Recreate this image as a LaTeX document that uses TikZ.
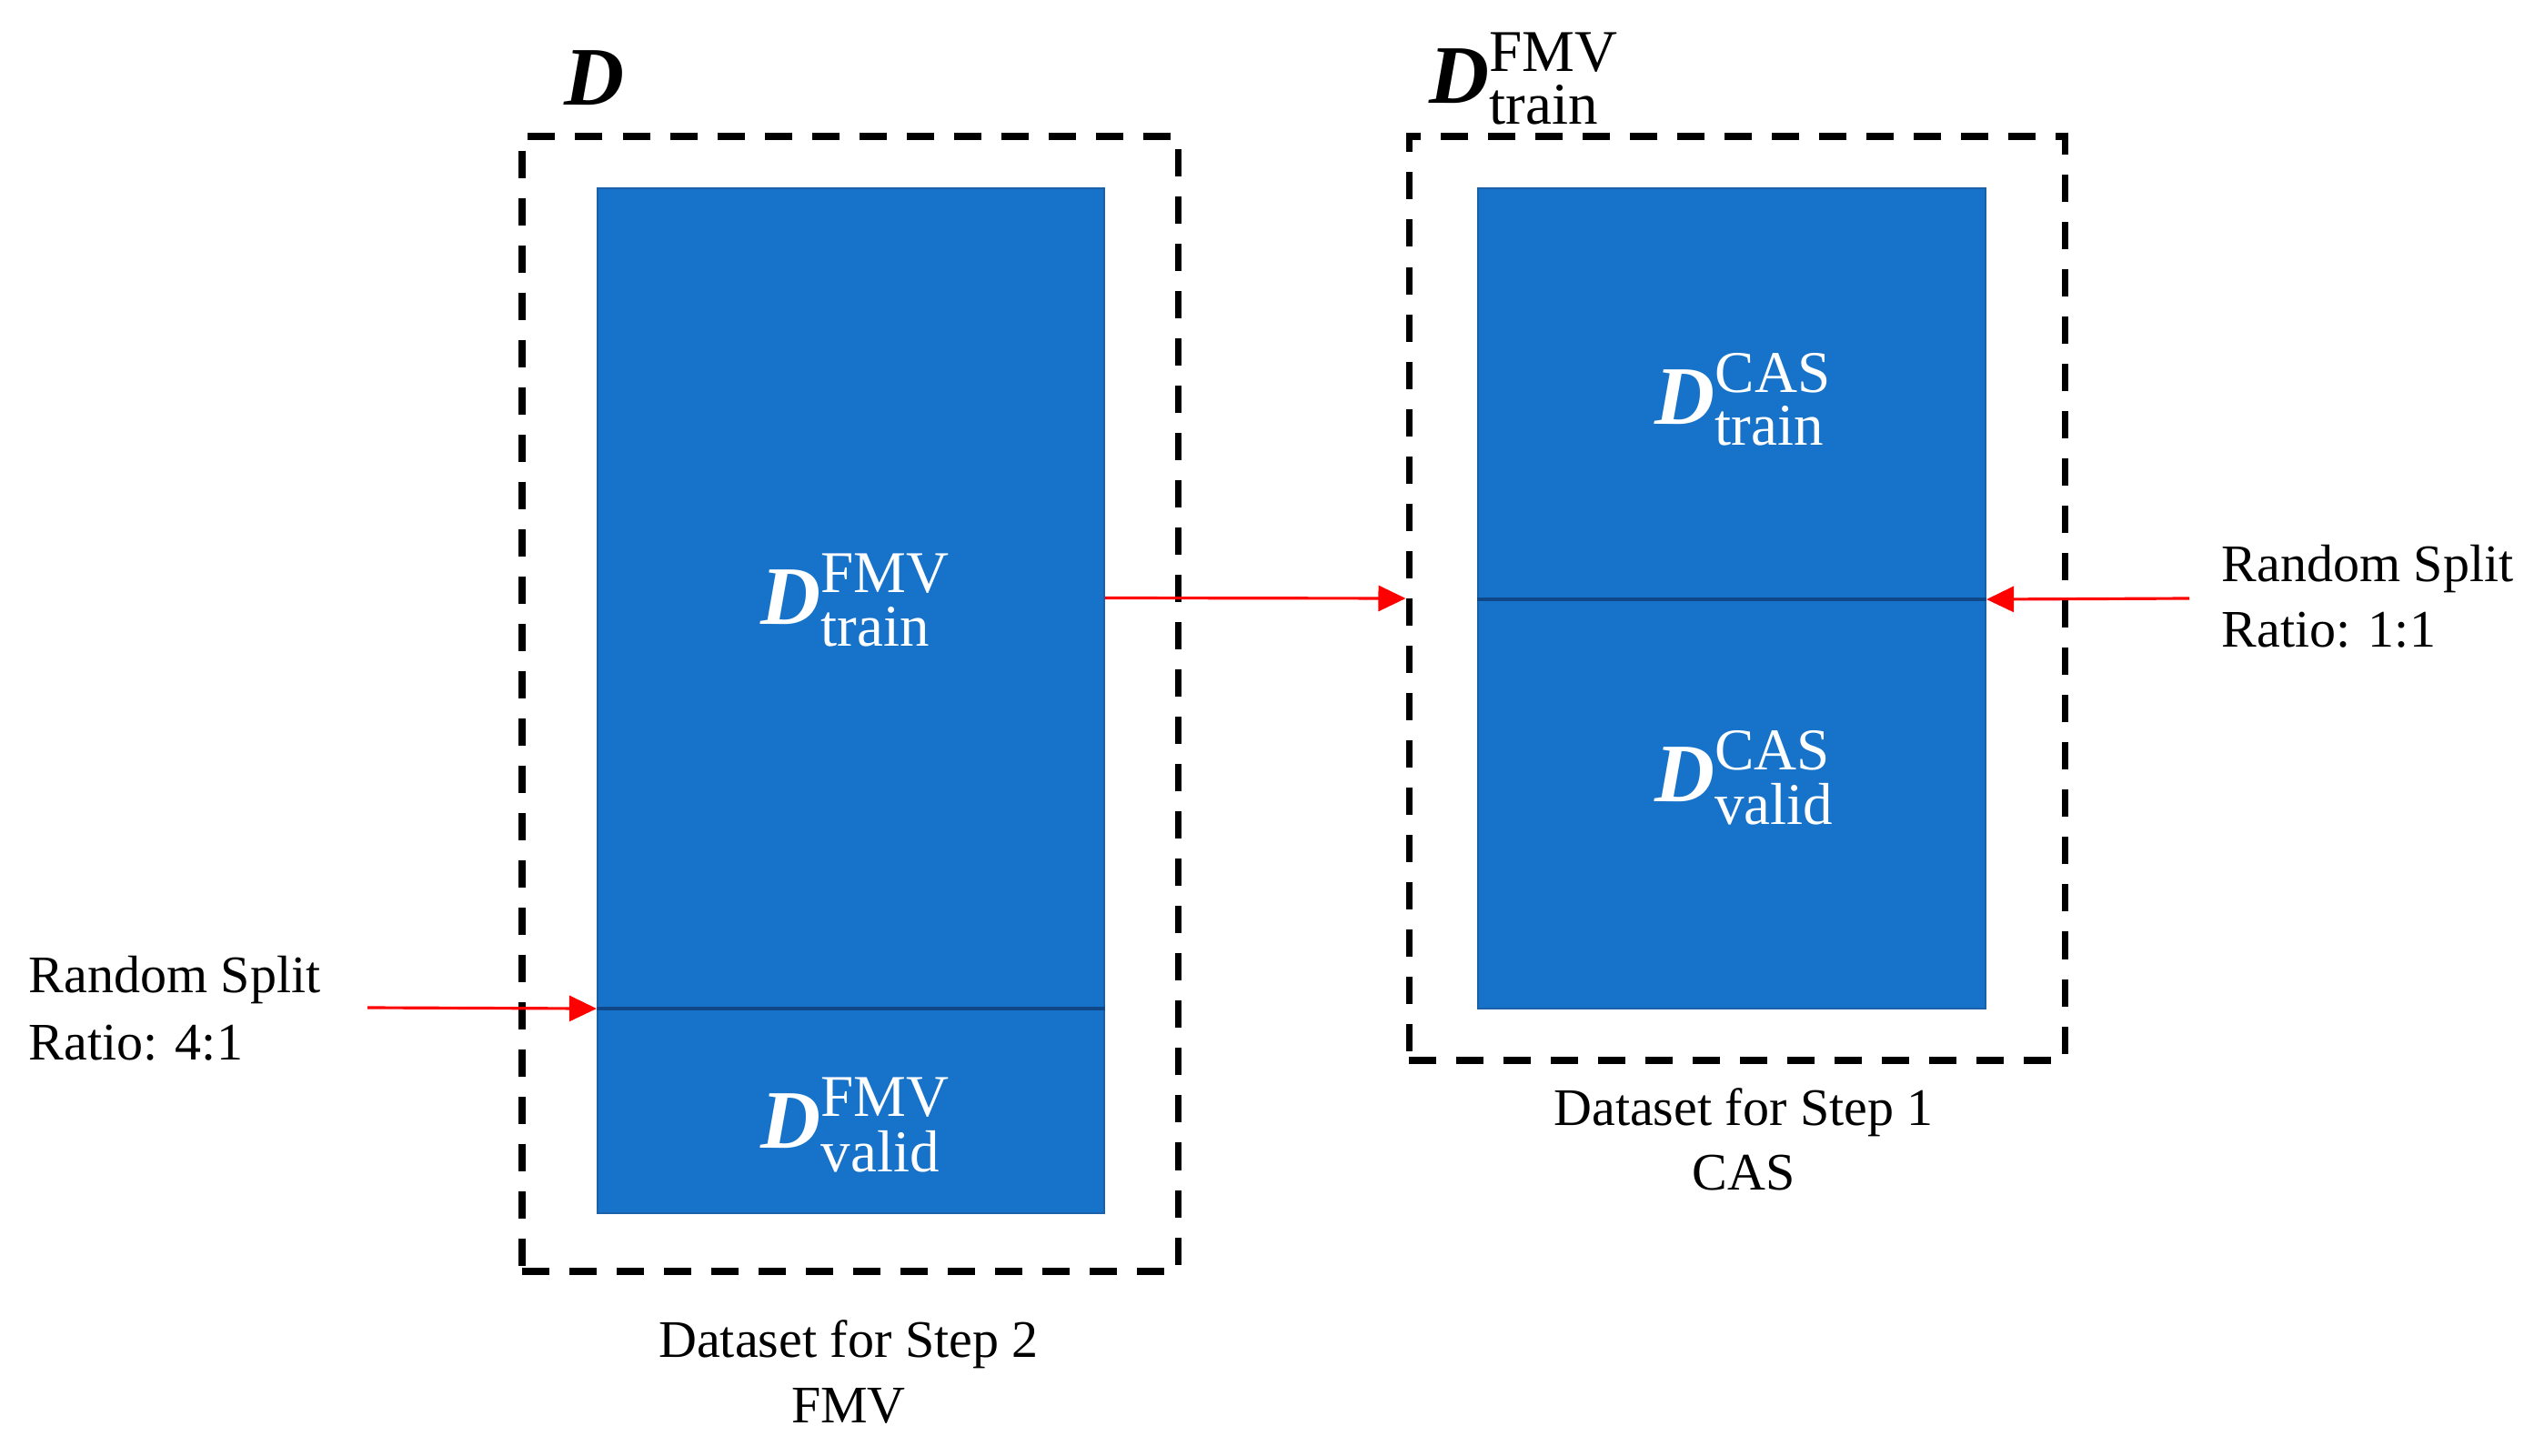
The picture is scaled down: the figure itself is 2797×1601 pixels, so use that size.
\RequirePackage{fix-cm}
\documentclass[tikz,border=0pt]{standalone}
\usepackage{amsmath}
\usepackage{fontspec}
\setmainfont{Liberation Serif}
\DeclareMathSizes{26}{26}{18.5}{13}
\usetikzlibrary{fit,arrows.meta}
\definecolor{boxblue}{RGB}{23,115,202}
\definecolor{boxedge}{RGB}{28,96,170}
\definecolor{splitblue}{RGB}{16,72,135}
\newcommand{\setD}{\text{\bfseries\itshape D}}
\begin{document}
\begin{tikzpicture}[x=0.01cm,y=-0.01cm,
  dashbox/.style={draw=black,line width=2pt,dash pattern=on 0.30cm off 0.22cm,inner sep=0pt,fill=none},
  bluebox/.style={draw=boxedge,line width=0.6pt,fill=boxblue,inner sep=0pt},
  splitline/.style={draw=splitblue,line width=1.2pt},
  redarrow/.style={draw=red,line width=0.9pt,-{Triangle[length=0.30cm,width=0.28cm]}},
  setlabel/.style={inner sep=0pt,font=\fontsize{26}{31}\selectfont},
  txt/.style={inner sep=0pt,anchor=base,font=\fontsize{16.5}{20}\selectfont},
  txtl/.style={txt,anchor=base west}]
\useasboundingbox (0,0) rectangle (2797,1601);
% dashed containers
\node[dashbox,fit={(574,150) (1295,1398)}] (boxL) {};
\node[dashbox,fit={(1549,150) (2270,1166)}] (boxR) {};
% blue blocks
\node[bluebox,fit={(657,207) (1214,1108)}] (trainL) {};
\node[bluebox,fit={(657,1108) (1214,1334)}] (validL) {};
\node[bluebox,fit={(1625,207) (2183,658)}] (casT) {};
\node[bluebox,fit={(1625,658) (2183,1109)}] (casV) {};
\draw[splitline] (trainL.south west) -- (trainL.south east);
\draw[splitline] (casT.south west) -- (casT.south east);
% set labels
\node[setlabel] (lD) at (654,86) {$\setD$};
\node[setlabel] (lDtr) at (1676,87) {$\setD^{\text{FMV}}_{\text{train}}$};
\node[setlabel,text=white] (lFtr) at (941,660) {$\setD^{\text{FMV}}_{\text{train}}$};
\node[setlabel,text=white] (lFva) at (941,1237) {$\setD^{\text{FMV}}_{\text{valid}}$};
\node[setlabel,text=white] (lCtr) at (1917,439) {$\setD^{\text{CAS}}_{\text{train}}$};
\node[setlabel,text=white] (lCva) at (1918,855) {$\setD^{\text{CAS}}_{\text{valid}}$};
% captions
\node[txtl] (rs4a) at (31,1091) {Random Split};
\node[txtl] (rs4b) at (31,1165) {Ratio: 4:1};
\node[txtl] (rs1a) at (2442,640) {Random Split};
\node[txtl] (rs1b) at (2442,712) {Ratio: 1:1};
\node[txt] (s2a) at (933,1492) {Dataset for Step 2};
\node[txt] (s2b) at (933,1564) {FMV};
\node[txt] (s1a) at (1917,1237) {Dataset for Step 1};
\node[txt] (s1b) at (1917,1308) {CAS};
% arrows
\coordinate (rs4) at (404,1108);
\coordinate (rs1) at (2407,658);
\draw[redarrow] (rs4) -- (trainL.south west);
\draw[redarrow] (trainL.east) -- (boxR.west);
\draw[redarrow] (rs1) -- (casT.south east);
\end{tikzpicture}
\end{document}
